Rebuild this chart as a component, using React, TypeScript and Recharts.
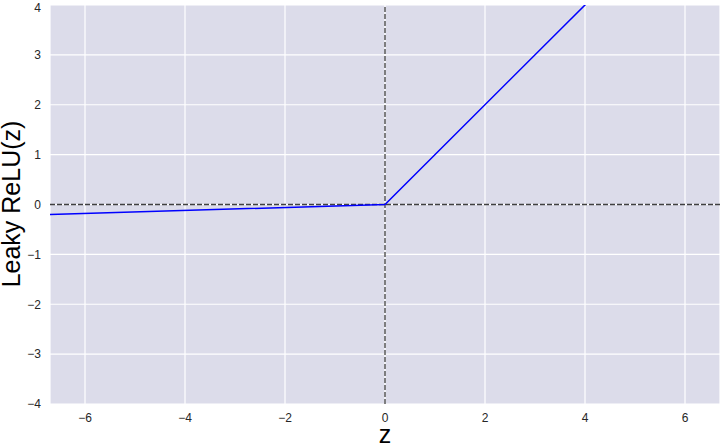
import { CartesianGrid, Line, LineChart, ReferenceLine, XAxis, YAxis } from "recharts";

// leaky relu, alpha ~0.03, sampled at the corners of the curve
const zValues = [-6.7, 0, 6.7];
const reluValues = [-0.2, 0, 6.7];
const xTicks = [-6, -4, -2, 0, 2, 4, 6];
const yTicks = [-4, -3, -2, -1, 0, 1, 2, 3, 4];

const data = zValues.map((z, i) => ({ z, y: reluValues[i] }));

const font = '"Liberation Sans", Arial, sans-serif';
const fmt = (v: number) => String(v).replace("-", "\u2212");

export default function App() {
  return (
    <div style={{ position: "absolute", left: 0, top: 0, width: 720, height: 445, background: "#fff" }}>
      <LineChart width={720} height={445} data={data} margin={{ top: 5, right: 0, left: 0, bottom: 0 }}>
        <CartesianGrid stroke="#ffffff" strokeWidth={1.2} fill="#dcdcea" fillOpacity={1} />
        <XAxis
          type="number"
          dataKey="z"
          domain={[-6.7, 6.7]}
          ticks={xTicks}
          allowDataOverflow
          axisLine={false}
          tickLine={false}
          tickFormatter={fmt}
          tick={{ fontSize: 12, fill: "#262626", fontFamily: font }}
          height={41}
          tickMargin={3}
          label={{
            content: () => (
              <text x={385} y={443} textAnchor="middle" fontSize={25} fill="#000" fontFamily={font}>
                z
              </text>
            ),
          }}
        />
        <YAxis
          type="number"
          domain={[-4, 4]}
          ticks={yTicks}
          allowDataOverflow
          axisLine={false}
          tickLine={false}
          tickFormatter={fmt}
          tick={{ fontSize: 12, fill: "#262626", fontFamily: font }}
          width={50}
          tickMargin={3}
          label={{
            content: () => (
              <text
                x={20}
                y={204}
                transform="rotate(-90 20 204)"
                textAnchor="middle"
                fontSize={25}
                fill="#000"
                fontFamily={font}
              >
                Leaky ReLU(z)
              </text>
            ),
          }}
        />
        <ReferenceLine x={0} stroke="#404040" strokeDasharray="5 2" strokeWidth={1.3} />
        <ReferenceLine y={0} stroke="#404040" strokeDasharray="5 2" strokeWidth={1.3} />
        <Line
          type="linear"
          dataKey="y"
          stroke="#0000ff"
          strokeWidth={1.5}
          dot={false}
          isAnimationActive={false}
        />
      </LineChart>
    </div>
  );
}
